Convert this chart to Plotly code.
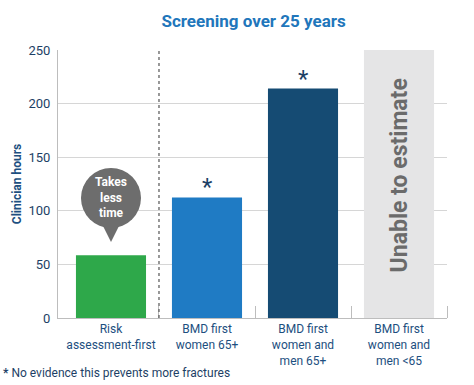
import plotly.graph_objects as go

categories = ["Risk<br>assessment-first", "BMD first<br>women 65+",
              "BMD first<br>women and<br>men 65+", "BMD first<br>women and<br>men <65"]
hours = [58.5, 112.5, 214, 250]
bar_colors = ["#2ea84a", "#1f7bc4", "#154b73", "#e5e5e6"]
asterisk_flags = [False, True, True, False]
y_ticks = [0, 50, 100, 150, 200, 250]

NAVY = "#1d3f66"
FONT = "Roboto, Arial, sans-serif"
xpos = list(range(len(categories)))
boundaries = [i + 0.5 for i in xpos]

fig = go.Figure()
fig.add_trace(go.Bar(
    x=xpos, y=hours, marker=dict(color=bar_colors, line=dict(width=0)),
    width=0.73, hoverinfo="skip", showlegend=False,
))

# asterisks
for i, (v, f) in enumerate(zip(hours, asterisk_flags)):
    if f:
        fig.add_annotation(x=xpos[i], y=v, text="*", showarrow=False, yanchor="bottom",
                           yshift=-6, font=dict(size=24, color=NAVY, family=FONT))

# Unable to estimate
fig.add_annotation(x=xpos[3], y=hours[3] / 2 + 8, text="<b>Unable to estimate</b>",
                   textangle=-90, showarrow=False,
                   font=dict(size=23, color="#6b6b6b", family=FONT))

# speech bubble over first bar
bubble_y = 112
fig.add_shape(type="circle", xref="x", yref="y", xsizemode="pixel", ysizemode="pixel",
              xanchor=0, yanchor=bubble_y, x0=-30, x1=30, y0=-30, y1=30,
              fillcolor="#6d6d6d", line=dict(width=0), layer="above")
fig.add_shape(type="path", xref="x", yref="y", xsizemode="pixel", ysizemode="pixel",
              xanchor=0, yanchor=bubble_y, path="M -10 -24 L 10 -24 L 0 -44 Z",
              fillcolor="#6d6d6d", line=dict(width=0), layer="above")
fig.add_annotation(x=0, y=bubble_y, text="<b>Takes<br>less<br>time</b>", showarrow=False,
                   font=dict(size=12, color="white", family=FONT), align="center")

# dotted divider
fig.add_shape(type="line", xref="x", yref="paper", x0=0.5, x1=0.5, y0=0, y1=1,
              line=dict(color="#555555", width=1.2, dash="dot"), layer="above")

# footnote
fig.add_annotation(xref="paper", yref="paper", x=-0.146, y=-0.172, xanchor="left",
                   yanchor="top", text="<b>*</b> No evidence this prevents more fractures",
                   showarrow=False, font=dict(size=12, color=NAVY, family=FONT))

fig.update_layout(
    width=474, height=385,
    margin=dict(l=58, r=27, t=50, b=67),
    paper_bgcolor="white", plot_bgcolor="white",
    title=dict(text="<b>Screening over 25 years</b>", x=0.535, xanchor="center",
               y=0.945, yanchor="middle",
               font=dict(size=17, color="#2176bb", family=FONT)),
    font=dict(family=FONT, color=NAVY),
)
fig.update_yaxes(range=[0, 250], tickvals=y_ticks, showgrid=True, gridcolor="#d6d6d6",
                 gridwidth=1, showline=True, linecolor="#bdbdbd", linewidth=1,
                 zeroline=False, ticks="", tickfont=dict(size=13, color=NAVY),
                 ticklabelstandoff=4, automargin=False,
                 title=dict(text="<b>Clinician hours</b>", standoff=4,
                            font=dict(size=12, color="#1d4f80")))
fig.update_xaxes(range=[-0.552, 3.5], tickvals=xpos, ticktext=categories,
                 showline=True, linecolor="#bdbdbd", linewidth=1, ticks="",
                 minor=dict(tickvals=boundaries, ticks="inside", ticklen=12,
                            tickcolor="#bdbdbd", showgrid=False),
                 tickangle=0, automargin=False, zeroline=False,
                 tickfont=dict(size=12, color="#1d4f80"), showgrid=False)

fig.write_html("out.html", config={"displayModeBar": False},
               post_script="document.body.style.margin='0';")
